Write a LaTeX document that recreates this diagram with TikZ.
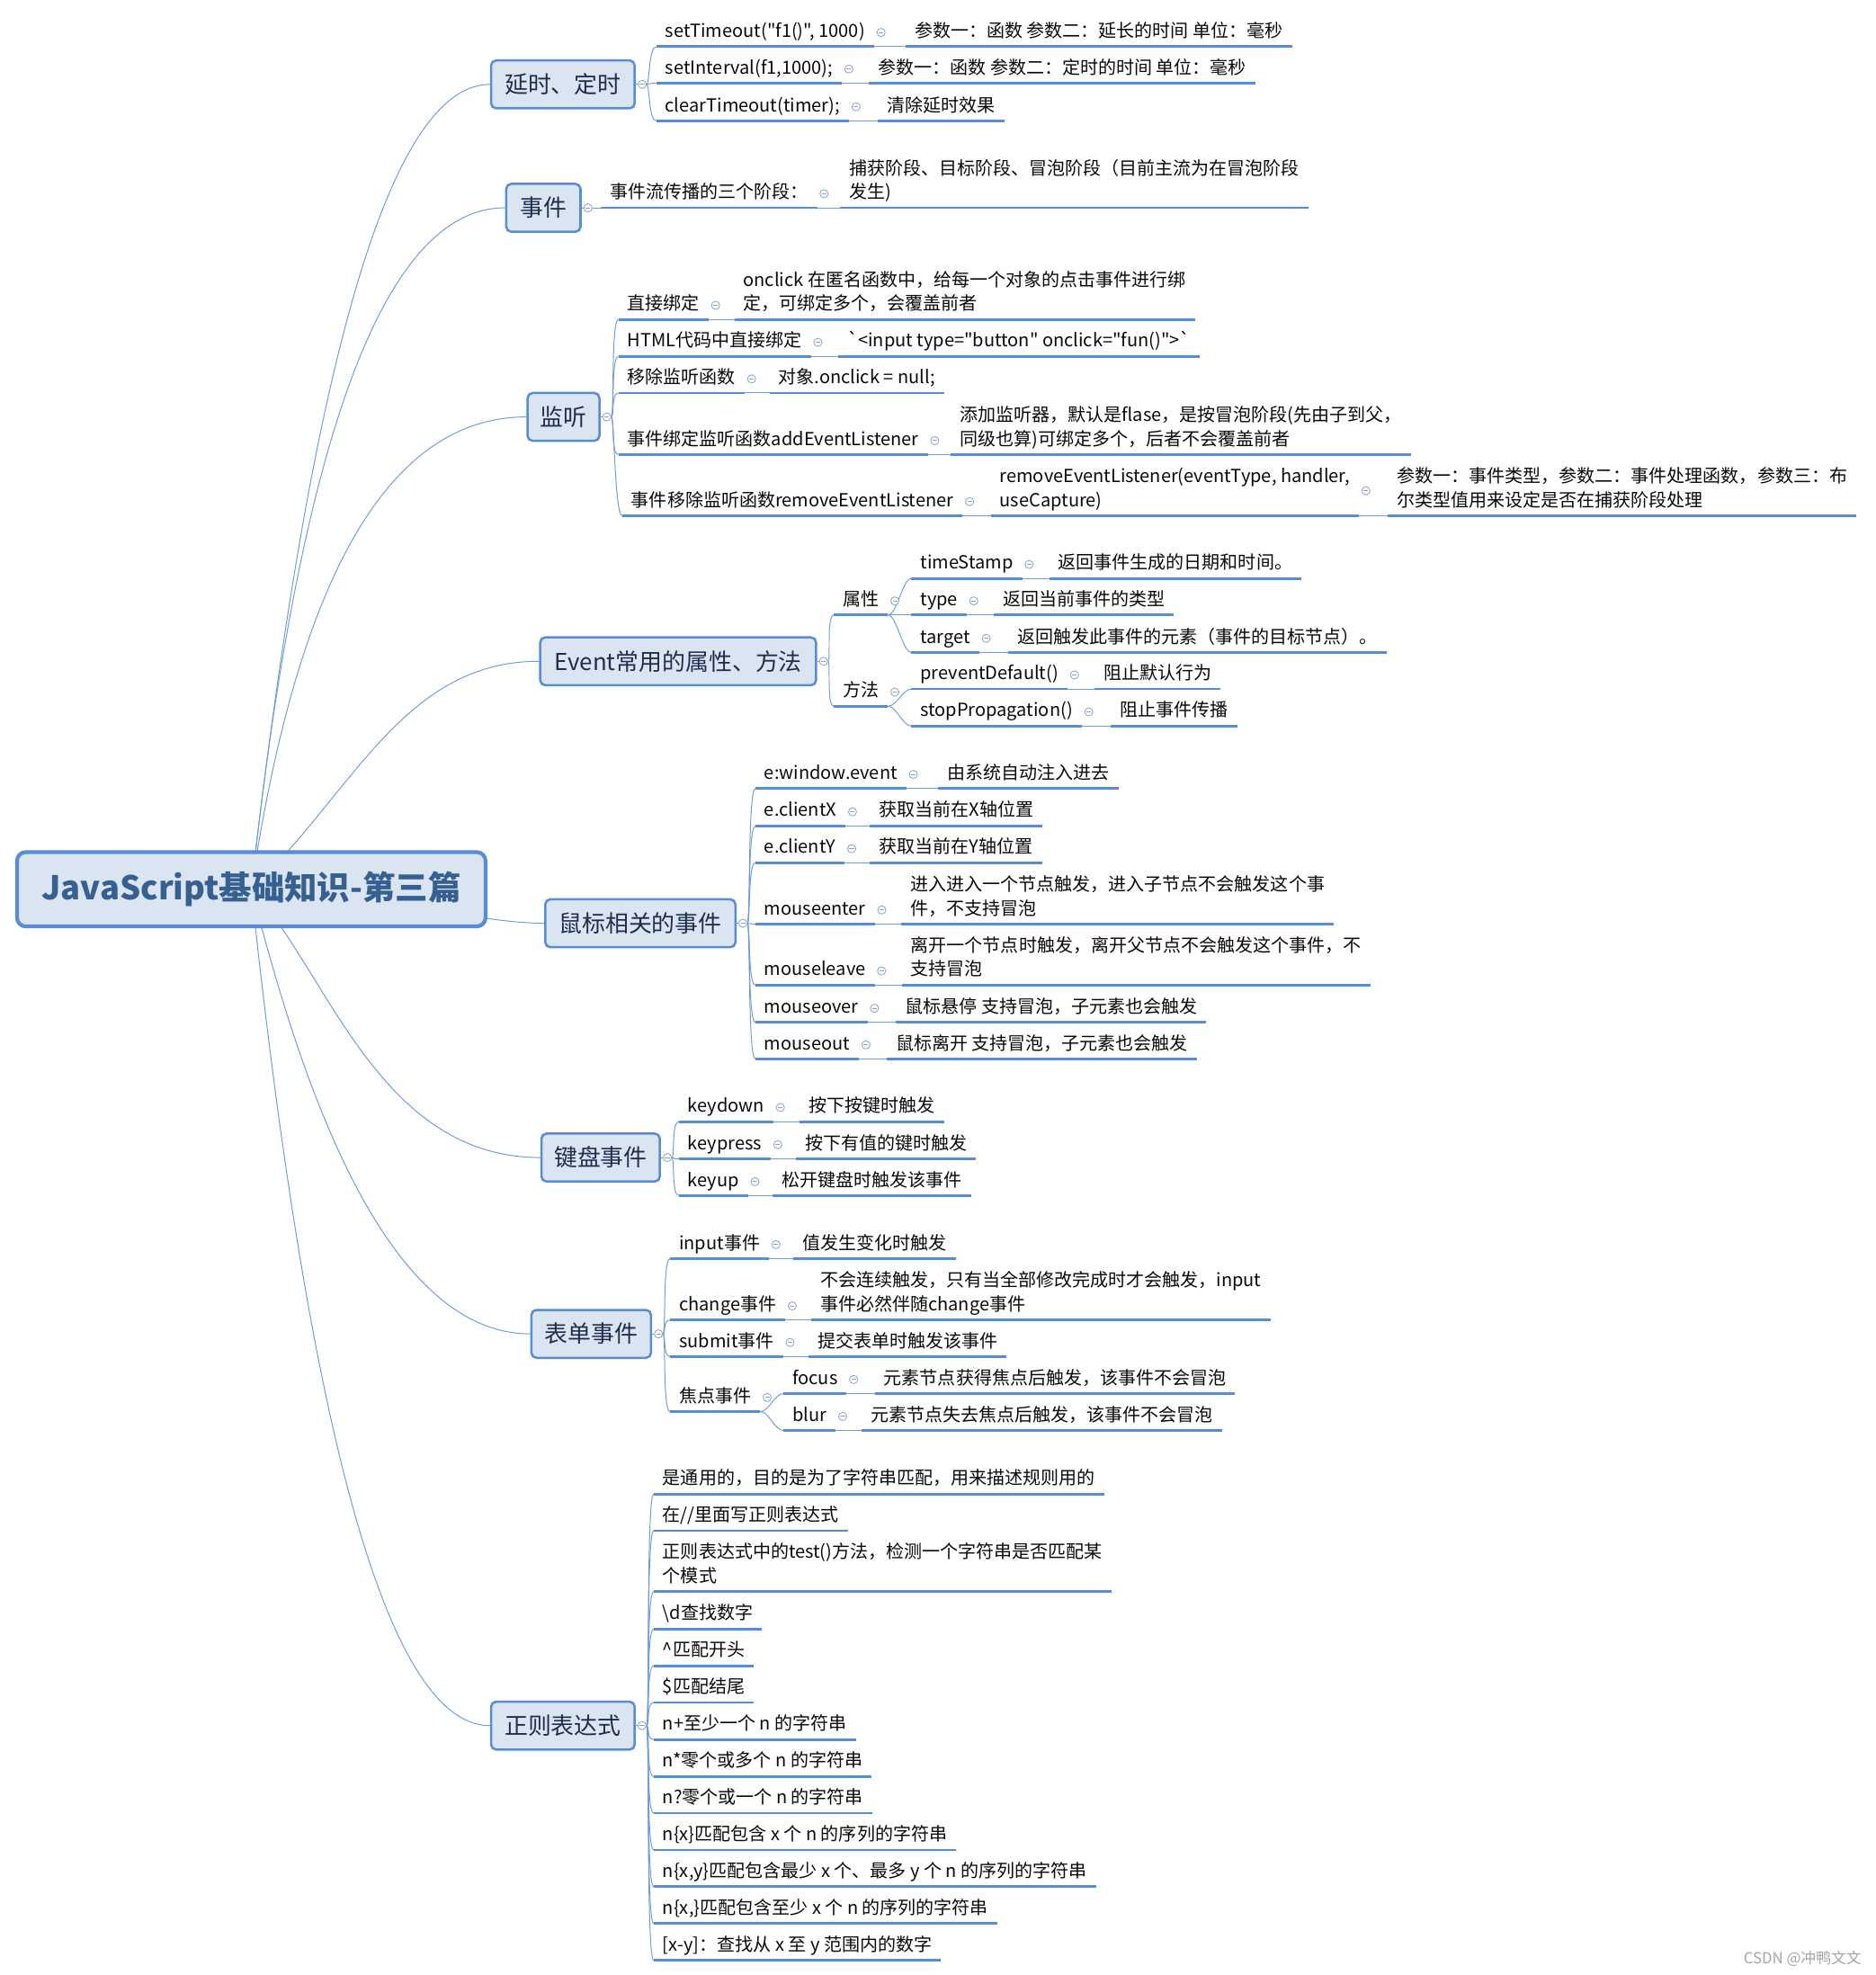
\documentclass[tikz,border=0pt]{standalone}
\usepackage{fontspec}
\newfontfamily\cjk{Noto Sans CJK SC}
\definecolor{boxfill}{RGB}{219,229,241}
\definecolor{boxline}{RGB}{86,141,212}
\definecolor{ulc}{RGB}{86,141,212}
\definecolor{connc}{RGB}{112,156,216}
\definecolor{markc}{RGB}{140,165,205}
\definecolor{topictext}{RGB}{30,46,80}
\definecolor{roottext}{RGB}{54,96,146}
\definecolor{itemc}{RGB}{10,10,10}
\definecolor{wmc}{RGB}{165,165,165}
\pgfdeclarelayer{bg}
\pgfsetlayers{bg,main}
\begin{document}
\begin{tikzpicture}[x=1pt,y=-1pt,
  conn/.style={draw=connc, line width=0.7pt},
  ulline/.style={draw=ulc, line width=2pt, line cap=butt},
  item/.style={anchor=south west, inner xsep=7pt, inner ysep=1.5pt,
    font=\cjk\fontsize{14.3}{19}\selectfont, text=itemc, align=left,
    execute at end node=\strut,
    append after command={(\tikzlastnode.south west) edge[ulline] (\tikzlastnode.south east)}},
  topic/.style={draw=boxline, fill=boxfill, line width=1.8pt, rounded corners=4pt,
    anchor=west, minimum height=38pt, inner xsep=6pt, inner ysep=0pt,
    font=\cjk\fontsize{18.5}{22}\selectfont, text=topictext},
  rootbox/.style={draw=boxline, fill=boxfill, line width=3pt, rounded corners=7pt,
    minimum width=372pt, minimum height=59pt, inner sep=0pt,
    font=\cjk\bfseries\fontsize{26}{30}\selectfont, text=roottext},
  marker/.style={circle, draw=markc, fill=white, line width=0.6pt, minimum size=6.5pt, inner sep=0pt,
    path picture={\draw[markc,line width=0.6pt] ([xshift=-1.8pt]path picture bounding box.center) -- ([xshift=1.8pt]path picture bounding box.center);}},
  wm/.style={font=\cjk\fontsize{12}{14}\selectfont, text=wmc, inner sep=0pt}
]
\useasboundingbox (0,0) rectangle (1489,1568);

% root
\node[rootbox] (root) at (199.5,706) {JavaScript基础知识-第三篇};

% ---------- 1
\node[topic, minimum width=114pt] (b1) at (389,67) {延时、定时};
\node[item] (s1a) at (521,37) {setTimeout("f1()", 1000)};
\node[item] (s1a1) at (719,37) {参数一：函数 参数二：延长的时间 单位：毫秒};
\node[item] (s1b) at (521,66) {setInterval(f1,1000);};
\node[item] (s1b1) at (690,66) {参数一：函数 参数二：定时的时间 单位：毫秒};
\node[item] (s1c) at (521,96) {clearTimeout(timer);};
\node[item] (s1c1) at (697,96) {清除延时效果};

% ---------- 2
\node[topic, minimum width=59pt] (b2) at (401,165) {事件};
\node[item] (s2a) at (477,165) {事件流传播的三个阶段：};
\node[item] (s2a1) at (667,165) {捕获阶段、目标阶段、冒泡阶段（目前主流为在冒泡阶段\\发生)};

% ---------- 3
\node[topic, minimum width=57pt] (b3) at (418,331) {监听};
\node[item] (s3a) at (491,253.6) {直接绑定};
\node[item] (s3a1) at (583,253.6) {onclick 在匿名函数中，给每一个对象的点击事件进行绑\\定，可绑定多个，会覆盖前者};
\node[item] (s3b) at (491,283) {HTML代码中直接绑定};
\node[item] (s3b1) at (665.5,283) {`<input type="button" onclick="fun()">`};
\node[item] (s3c) at (491,312) {移除监听函数};
\node[item] (s3c1) at (611,312) {对象.onclick = null;};
\node[item] (s3d) at (491,361) {事件绑定监听函数addEventListener};
\node[item] (s3d1) at (755,361) {添加监听器，默认是flase，是按冒泡阶段(先由子到父，\\同级也算)可绑定多个，后者不会覆盖前者};
\node[item] (s3e) at (494,409.5) {事件移除监听函数removeEventListener};
\node[item] (s3e1) at (786.6,409.5) {removeEventListener(eventType, handler,\\useCapture)};
\node[item] (s3e2) at (1102,409.5) {参数一：事件类型，参数二：事件处理函数，参数三：布\\尔类型值用来设定是否在捕获阶段处理};

% ---------- 4
\node[topic, minimum width=219pt] (b4) at (428,525) {Event常用的属性、方法};
\node[item] (s4a) at (662,488.3) {属性};
\node[item] (s4a1) at (723.6,459.3) {timeStamp};
\node[item] (s4a1x) at (833,459.3) {返回事件生成的日期和时间。};
\node[item] (s4a2) at (723.6,488.3) {type};
\node[item] (s4a2x) at (789,488.3) {返回当前事件的类型};
\node[item] (s4a3) at (723.6,518) {target};
\node[item] (s4a3x) at (800.5,518) {返回触发此事件的元素（事件的目标节点）。};
\node[item] (s4b) at (662,560.7) {方法};
\node[item] (s4b1) at (723.6,547) {preventDefault()};
\node[item] (s4b1x) at (869,547) {阻止默认行为};
\node[item] (s4b2) at (723.6,576.4) {stopPropagation()};
\node[item] (s4b2x) at (882,576.4) {阻止事件传播};

% ---------- 5
\node[topic, minimum width=151pt] (b5) at (432,733) {鼠标相关的事件};
\node[item] (s5a) at (599.7,626) {e:window.event};
\node[item] (s5ax) at (745,626) {由系统自动注入进去};
\node[item] (s5b) at (599.7,655.7) {e.clientX};
\node[item] (s5bx) at (690.8,655.7) {获取当前在X轴位置};
\node[item] (s5c) at (599.7,685) {e.clientY};
\node[item] (s5cx) at (690.8,685) {获取当前在Y轴位置};
\node[item] (s5d) at (599.7,733.6) {mouseenter};
\node[item] (s5dx) at (715.7,733.6) {进入进入一个节点触发，进入子节点不会触发这个事\\件，不支持冒泡};
\node[item] (s5e) at (599.7,782) {mouseleave};
\node[item] (s5ex) at (716,782) {离开一个节点时触发，离开父节点不会触发这个事件，不\\支持冒泡};
\node[item] (s5f) at (599.7,811.7) {mouseover};
\node[item] (s5fx) at (711.4,811.7) {鼠标悬停 支持冒泡，子元素也会触发};
\node[item] (s5g) at (599.7,840.7) {mouseout};
\node[item] (s5gx) at (704,840.7) {鼠标离开 支持冒泡，子元素也会触发};

% ---------- 6
\node[topic, minimum width=94pt] (b6) at (429,919) {键盘事件};
\node[item] (s6a) at (539,890.5) {keydown};
\node[item] (s6ax) at (634.9,890.5) {按下按键时触发};
\node[item] (s6b) at (539,920) {keypress};
\node[item] (s6bx) at (631.9,920) {按下有值的键时触发};
\node[item] (s6c) at (539,949.3) {keyup};
\node[item] (s6cx) at (613.6,949.3) {松开键盘时触发该事件};

% ---------- 7
\node[topic, minimum width=95pt] (b7) at (421,1059) {表单事件};
\node[item] (s7a) at (532,999.3) {input事件};
\node[item] (s7ax) at (630,999.3) {值发生变化时触发};
\node[item] (s7b) at (532,1048) {change事件};
\node[item] (s7bx) at (644,1048) {不会连续触发，只有当全部修改完成时才会触发，input\\事件必然伴随change事件};
\node[item] (s7c) at (532,1077) {submit事件};
\node[item] (s7cx) at (641.9,1077) {提交表单时触发该事件};
\node[item] (s7d) at (532,1120.7) {焦点事件};
\node[item] (s7d1) at (622,1106.4) {focus};
\node[item] (s7d1x) at (694.6,1106.4) {元素节点获得焦点后触发，该事件不会冒泡};
\node[item] (s7d2) at (622,1135.7) {blur};
\node[item] (s7d2x) at (684.3,1135.7) {元素节点失去焦点后触发，该事件不会冒泡};

% ---------- 8
\node[topic, minimum width=114pt] (b8) at (389,1370) {正则表达式};
\node[item] (r1) at (519,1186.1) {是通用的，目的是为了字符串匹配，用来描述规则用的};
\node[item] (r2) at (519,1215.3) {在//里面写正则表达式};
\node[item] (r3) at (519,1263.6) {正则表达式中的test()方法，检测一个字符串是否匹配某\\个模式};
\node[item] (r4) at (519,1293.2) {\textbackslash d查找数字};
\node[item] (r5) at (519,1322.5) {\textasciicircum{}匹配开头};
\node[item] (r6) at (519,1351.6) {\$匹配结尾};
\node[item] (r7) at (519,1381) {n+至少一个 n 的字符串};
\node[item] (r8) at (519,1410.4) {n*零个或多个 n 的字符串};
\node[item] (r9) at (519,1439.4) {n?零个或一个 n 的字符串};
\node[item] (r10) at (519,1468.8) {n\{x\}匹配包含 x 个 n 的序列的字符串};
\node[item] (r11) at (519,1497.9) {n\{x,y\}匹配包含最少 x 个、最多 y 个 n 的序列的字符串};
\node[item] (r12) at (519,1527.2) {n\{x,\}匹配包含至少 x 个 n 的序列的字符串};
\node[item] (r13) at (519,1556.3) {[x-y]：查找从 x 至 y 范围内的数字};

% markers
\foreach \i in {1,...,8} {\node[marker] (m\i) at ([xshift=5pt]b\i.east) {};}
\foreach \p in {s1a,s1b,s1c,s2a,s3a,s3b,s3c,s3d,s3e,s3e1,s4a,s4a1,s4a2,s4a3,s4b,s4b1,s4b2,s5a,s5b,s5c,s5d,s5e,s5f,s5g,s6a,s6b,s6c,s7a,s7b,s7c,s7d,s7d1,s7d2}
  {\node[marker] (k\p) at ([xshift=5.5pt]\p.east) {};}

% watermark
\node[wm, anchor=east] (wm) at (1478,1555) {CSDN @冲鸭文文};

\begin{pgfonlayer}{bg}
\fill[white] (0,0) rectangle (1489,1568);
% root connectors
\draw[conn] (root.center) .. controls (248,280) and (311,67) .. (b1.west);
\draw[conn] (root.center) .. controls (238.5,345.3) and (305.7,165) .. (b2.west);
\draw[conn] (root.center) .. controls (236.5,456.7) and (309.3,331) .. (b3.west);
\draw[conn] (root.center) .. controls (280,630) and (320,525) .. (b4.west);
\draw[conn] (root.center) .. controls (300,710) and (380,733) .. (b5.west);
\draw[conn] (root.center) .. controls (260,770) and (300,919) .. (b6.west);
\draw[conn] (root.center) .. controls (225,800) and (290,1059) .. (b7.west);
\draw[conn] (root.center) .. controls (246.7,1148.7) and (309.7,1370) .. (b8.west);
% topic to marker
\foreach \i in {1,...,8} {\draw[conn] (b\i.east) -- (m\i);}
% fans from topic markers
\foreach \c in {s1a,s1b,s1c} {\draw[conn] (m1) .. controls +(6,0) and +(-6,0) .. (\c.south west);}
\draw[conn] (m2) -- (s2a.south west);
\foreach \c in {s3a,s3b,s3c,s3d,s3e} {\draw[conn] (m3) .. controls +(6,0) and +(-6,0) .. (\c.south west);}
\foreach \c in {s4a,s4b} {\draw[conn] (m4) .. controls +(6,0) and +(-6,0) .. (\c.south west);}
\foreach \c in {s5a,s5b,s5c,s5d,s5e,s5f,s5g} {\draw[conn] (m5) .. controls +(6,0) and +(-6,0) .. (\c.south west);}
\foreach \c in {s6a,s6b,s6c} {\draw[conn] (m6) .. controls +(6,0) and +(-6,0) .. (\c.south west);}
\foreach \c in {s7a,s7b,s7c,s7d} {\draw[conn] (m7) .. controls +(6,0) and +(-6,0) .. (\c.south west);}
\foreach \i in {1,...,13} {\draw[conn] (m8) .. controls +(6,0) and +(-6,0) .. (r\i.south west);}
% item fans
\foreach \p/\c in {s4a/s4a1,s4a/s4a2,s4a/s4a3,s4b/s4b1,s4b/s4b2,s7d/s7d1,s7d/s7d2}
  {\draw[conn] (\p.south east) .. controls +(7,0) and +(-7,0) .. (\c.south west);}
% single-child links
\foreach \p/\c in {s1a/s1a1,s1b/s1b1,s1c/s1c1,s2a/s2a1,s3a/s3a1,s3b/s3b1,s3c/s3c1,s3d/s3d1,s3e/s3e1,s3e1/s3e2,
  s4a1/s4a1x,s4a2/s4a2x,s4a3/s4a3x,s4b1/s4b1x,s4b2/s4b2x,s5a/s5ax,s5b/s5bx,s5c/s5cx,s5d/s5dx,s5e/s5ex,s5f/s5fx,s5g/s5gx,
  s6a/s6ax,s6b/s6bx,s6c/s6cx,s7a/s7ax,s7b/s7bx,s7c/s7cx,s7d1/s7d1x,s7d2/s7d2x}
  {\draw[conn] (\p.south east) -- (\c.south west);}
\end{pgfonlayer}
\end{tikzpicture}
\end{document}
